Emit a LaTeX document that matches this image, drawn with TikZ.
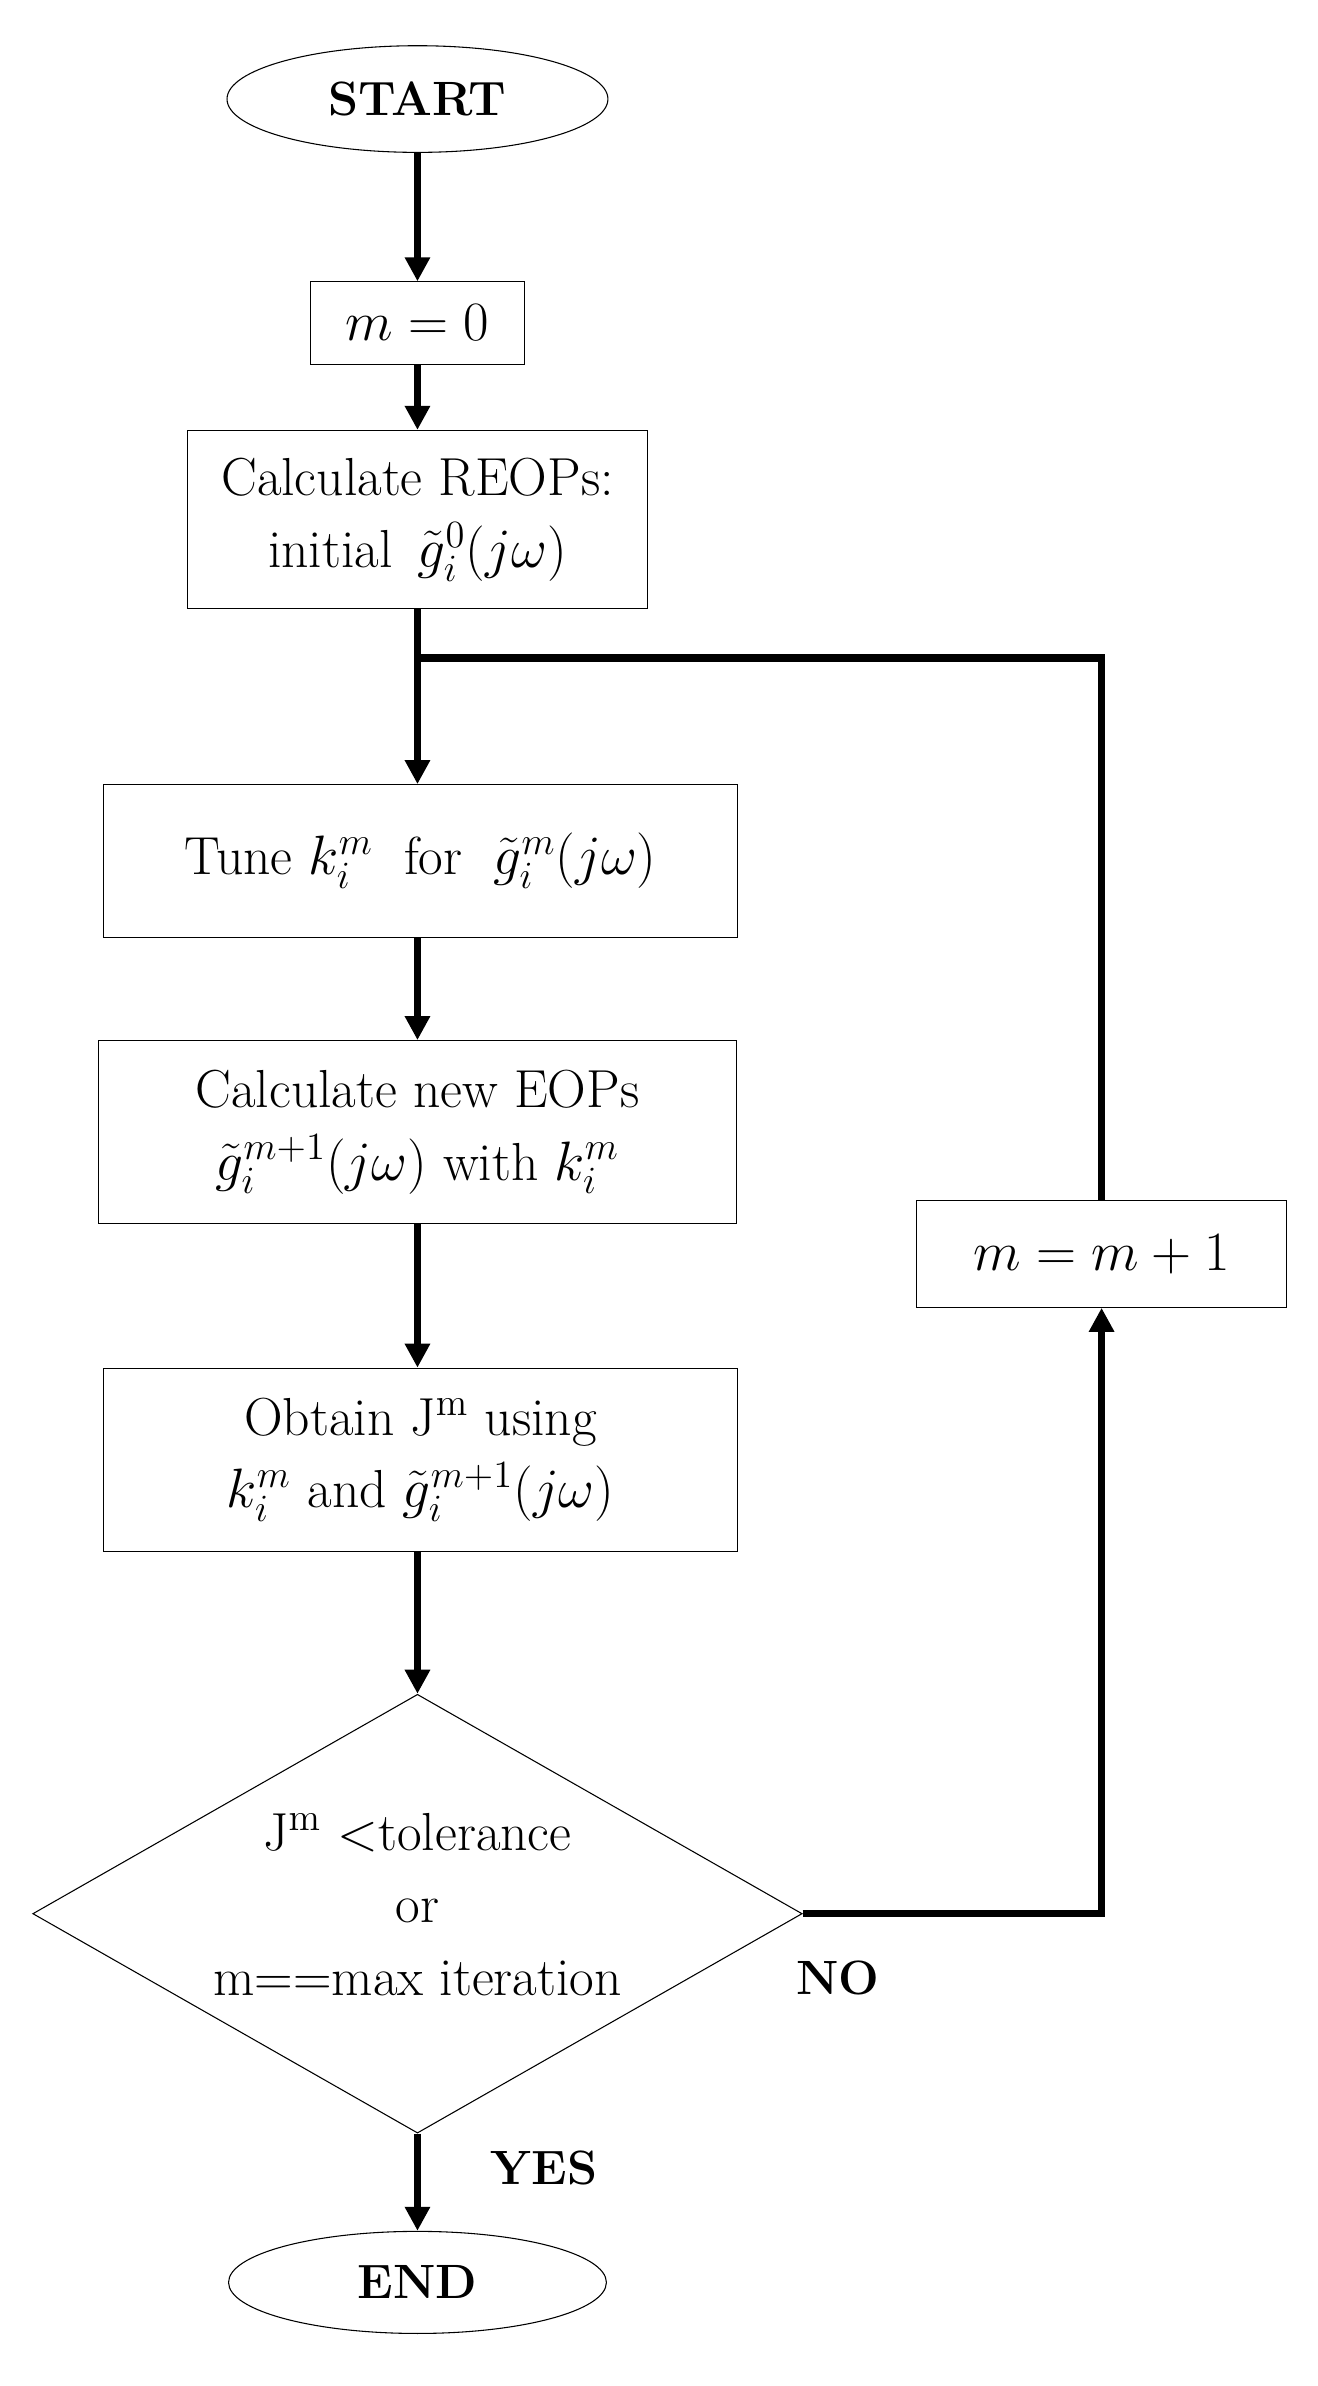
\documentclass[tikz,border=0pt]{standalone}
\usetikzlibrary{shapes.geometric,arrows.meta}
\begin{document}
\begin{tikzpicture}[x=0.02cm,y=-0.02cm,
  box/.style={draw,thin,rectangle,align=center,inner sep=0pt,font=\fontsize{20}{27}\selectfont},
  oval/.style={draw,thin,ellipse,inner sep=0pt,font=\fontsize{18}{22}\selectfont\bfseries},
  arr/.style={line width=2.8pt,-{Triangle[length=9pt,width=9pt]}},
  ln/.style={line width=2.8pt}]
\useasboundingbox (0,0) rectangle (865,1566);
\node[oval,minimum width=250*0.02cm,minimum height=70*0.02cm] (start) at (274,65) {START};
\node[box,minimum width=140*0.02cm,minimum height=54*0.02cm] (m0) at (274,212) {$m=0$};
\node[box,minimum width=302*0.02cm,minimum height=117*0.02cm] (reop) at (274,341) {Calculate REOPs:\\ initial\, $\tilde g_i^{0}(j\omega)$};
\node[box,minimum width=416*0.02cm,minimum height=100*0.02cm] (tune) at (276,565) {Tune $k_i^m$\; for\; $\tilde g_i^{m}(j\omega)$};
\node[box,minimum width=419*0.02cm,minimum height=120*0.02cm] (eop) at (274,743) {Calculate new EOPs\\ $\tilde g_i^{m+1}(j\omega)$ with $k_i^m$};
\node[box,minimum width=416*0.02cm,minimum height=120*0.02cm] (obt) at (276,958) {Obtain J$^{\mathrm m}$ using\\ $k_i^m$ and $\tilde g_i^{m+1}(j\omega)$};
\node[draw,thin,diamond,aspect=1.75,minimum width=505*0.02cm,minimum height=288*0.02cm,inner sep=0pt] (dec) at (274,1256) {};
\node[align=center,font=\fontsize{20}{27}\selectfont] (dtxt) at (274,1250) {J$^{\mathrm m}$ <tolerance\\ or\\ m==max iteration};
\node[box,minimum width=243*0.02cm,minimum height=70*0.02cm] (inc) at (723,823) {$m=m+1$};
\node[oval,minimum width=248*0.02cm,minimum height=67*0.02cm] (end) at (274,1498) {END};
\node[font=\fontsize{18}{22}\selectfont\bfseries] (no) at (550,1298) {NO};
\node[font=\fontsize{18}{22}\selectfont\bfseries] (yes) at (357,1423) {YES};
\coordinate (j) at (274,432);
\coordinate (jr) at (723,432);
\coordinate (dr) at (723,1256);
\draw[arr] (start) -- (m0);
\draw[arr] (m0) -- (reop);
\draw[arr] (reop.south) -- (tune.north -| reop.south);
\draw[ln] (j) -- (jr) -- (inc.north);
\draw[arr] (tune.south -| eop.north) -- (eop);
\draw[arr] (eop) -- (obt.north -| eop.south);
\draw[arr] (obt.south -| dec.north) -- (dec.north);
\draw[arr] (dec.east) -- (dr) -- (inc.south);
\draw[arr] (dec.south) -- (end.north);
\end{tikzpicture}
\end{document}
